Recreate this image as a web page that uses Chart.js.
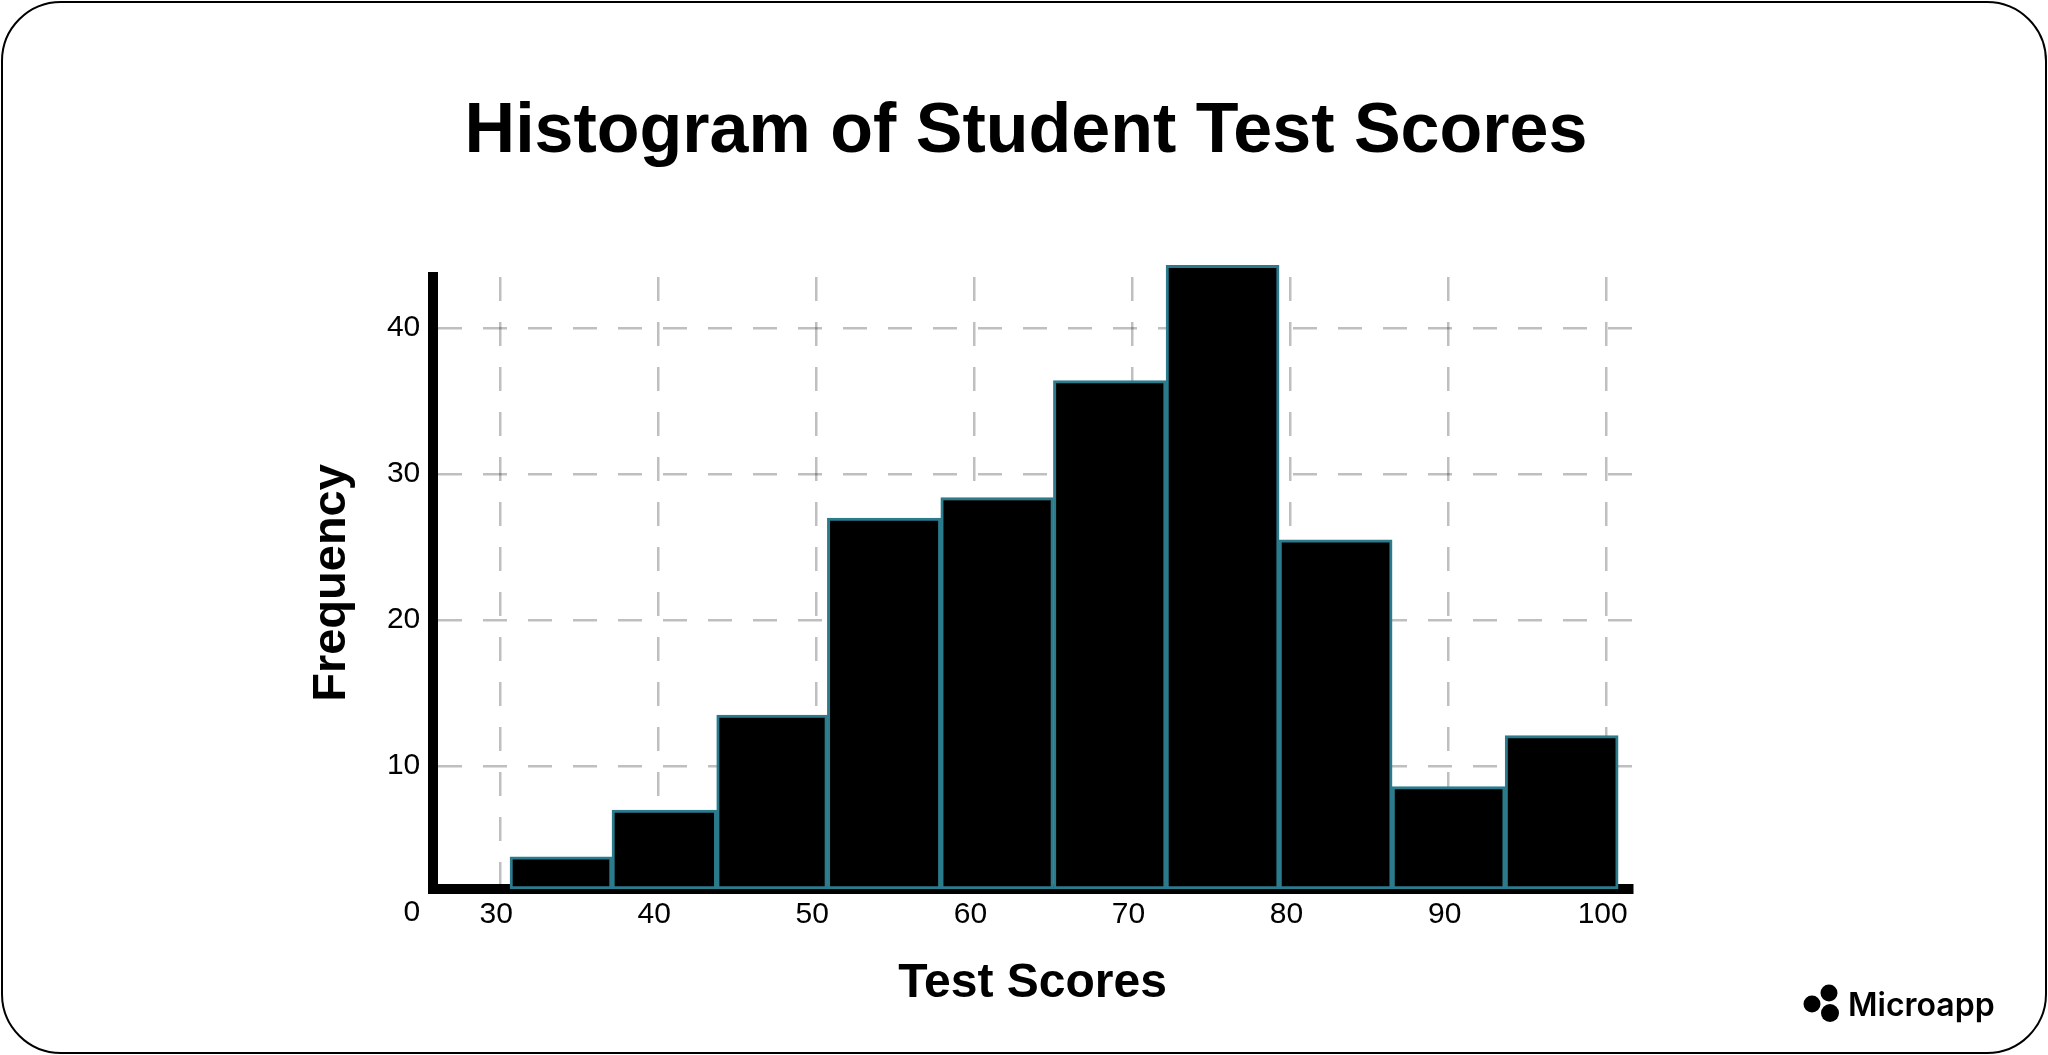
<!DOCTYPE html>
<html>
<head>
<meta charset="utf-8">
<title>Histogram of Student Test Scores</title>
<script src="https://cdn.jsdelivr.net/npm/chart.js@4.4.1/dist/chart.umd.min.js"></script>
<style>
  html, body { margin: 0; padding: 0; background: #fff; }
  #wrap { position: relative; width: 2048px; height: 1055px; overflow: hidden; }
  #chart { position: absolute; left: 0; top: 0; }
  #title {
    position: absolute; left: 2px; top: 93px; width: 2048px; margin: 0;
    text-align: center; line-height: 70px;
    font-family: "Liberation Sans", Arial, sans-serif; font-weight: bold; font-size: 70px;
    color: #000;
  }
  #frame {
    position: absolute; left: 1px; top: 1px; width: 2046px; height: 1053px;
    box-sizing: border-box; border: 2px solid #000; border-radius: 60px;
    pointer-events: none;
  }
  #logo {
    position: absolute; left: 1802px; top: 984px;
    display: flex; align-items: center; gap: 6px;
    font-family: Inter, "Noto Sans", sans-serif; font-weight: 600; font-size: 32px;
    color: #000;
  }
</style>
</head>
<body>
<div id="wrap">
  <canvas id="chart" width="2048" height="1055"></canvas>
  <h1 id="title">Histogram of Student Test Scores</h1>
  <div id="frame"></div>
  <div id="logo">
    <svg width="40" height="40" viewBox="0 0 40 40">
      <circle cx="10" cy="20" r="8.5" fill="#000"/>
      <circle cx="27" cy="9" r="8.5" fill="#000"/>
      <circle cx="28" cy="29" r="9" fill="#000"/>
    </svg>
    <span>Microapp</span>
  </div>
</div>
<script>
// histogram bins (score edges) and their counts
const binEdges = [30.6, 37.1, 43.5, 50.7, 57.9, 65.0, 72.1, 79.3, 86.4, 93.6, 100.7];
const frequencies = [3.8, 7.0, 13.5, 27.0, 28.4, 36.4, 44.3, 25.5, 8.6, 12.1];
const xTickValues = [30, 40, 50, 60, 70, 80, 90, 100];
const yTickValues = [0, 10, 20, 30, 40];
const axisBase = 1.6; // where the horizontal axis line sits

const binCenters = binEdges.slice(0, -1).map((e, i) => (e + binEdges[i + 1]) / 2);

const tickFont = { family: "'Liberation Sans', Arial, sans-serif", size: 30 };
const boldFont = (size) => ({ family: "'Liberation Sans', Arial, sans-serif", size: size, weight: 'bold', lineHeight: 1.2 });
const gridDash = [24, 21];
const gridColor = 'rgba(0,0,0,0.25)';

new Chart(document.getElementById('chart'), {
  type: 'bar',
  data: {
    datasets: [{
      label: 'Frequency',
      data: frequencies.map((f, i) => ({ x: binCenters[i], y: f })),
      base: axisBase,
      backgroundColor: '#000',
      borderColor: '#2b7b8c',
      borderWidth: 3,
      borderSkipped: false,
      barThickness: 'flex',
      categoryPercentage: 1,
      barPercentage: 1,
      clip: false
    }]
  },
  options: {
    responsive: false,
    animation: false,
    layout: { padding: { left: 304, right: 416, top: 277, bottom: 42 } },
    plugins: {
      legend: { display: false },
      tooltip: { enabled: false }
    },
    scales: {
      x: {
        type: 'linear',
        min: 25.77,
        max: 101.6,
        offset: false,
        afterBuildTicks: (scale) => { scale.ticks = xTickValues.map(v => ({ value: v })); },
        grid: { offset: false, color: gridColor, lineWidth: 2.5, drawTicks: false },
        border: { display: true, color: '#000', width: 10, dash: gridDash },
        ticks: { color: '#000', font: tickFont, padding: 8, labelOffset: -4, maxRotation: 0, autoSkip: false },
        title: { display: true, text: 'Test Scores', color: '#000', font: boldFont(48), padding: { top: 14.5, bottom: 0 } }
      },
      y: {
        min: axisBase,
        max: 43.5,
        afterBuildTicks: (scale) => { scale.ticks = yTickValues.map(v => ({ value: v })); },
        grid: {
          color: (c) => (c.tick && c.tick.value < axisBase ? 'rgba(0,0,0,0)' : gridColor),
          lineWidth: 2.5,
          drawTicks: false
        },
        border: { display: true, color: '#000', width: 10, dash: gridDash },
        ticks: { color: '#000', font: tickFont, padding: 13, autoSkip: false },
        title: { display: true, text: 'Frequency', color: '#000', font: boldFont(47), padding: { top: 0, bottom: 13.5 } }
      }
    }
  }
});
</script>
</body>
</html>
